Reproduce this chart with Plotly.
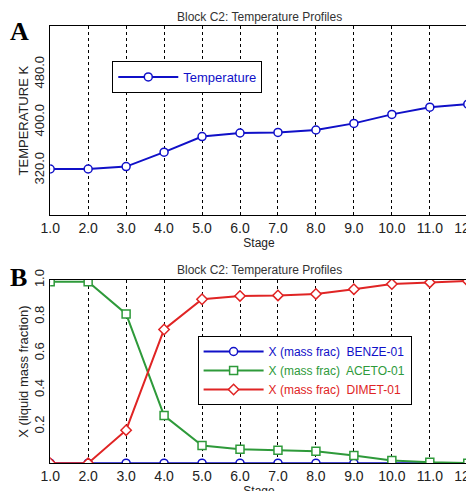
import plotly.graph_objects as go
from plotly.subplots import make_subplots

stages = list(range(1, 13))
stage_labels = ["%.1f" % s for s in stages]
temperature = [322, 322, 326, 350, 376, 382, 383, 387, 398, 413, 425, 430]
benzene = [0] * 12
acetone = [0.99, 0.99, 0.815, 0.26, 0.096, 0.076, 0.071, 0.065, 0.042, 0.015, 0.005, 0.0]
dimet = [0.0, 0.0, 0.18, 0.73, 0.895, 0.913, 0.916, 0.924, 0.95, 0.978, 0.987, 0.995]

BLUE = "#1010c8"
GREEN = "#2e9a3a"
RED = "#e02424"

fig = make_subplots(rows=2, cols=1)

def lbl(text, color):
    return f'<span style="color:{color}">{text}</span>'

fig.add_trace(go.Scatter(x=stages, y=temperature, mode="lines+markers", name=lbl("Temperature", BLUE),
                         line=dict(color=BLUE, width=2), marker=dict(symbol="circle", size=8, color="white", line=dict(color=BLUE, width=1.5)),
                         legend="legend", showlegend=True), row=1, col=1)
series = [(benzene, "X (mass frac)  BENZE-01", BLUE, "circle"),
          (acetone, "X (mass frac)  ACETO-01", GREEN, "square"),
          (dimet, "X (mass frac)  DIMET-01", RED, "diamond")]
for vals, name, col, sym in series:
    fig.add_trace(go.Scatter(x=stages, y=vals, mode="lines+markers", name=lbl(name, col),
                             line=dict(color=col, width=2), marker=dict(symbol=sym, size=8, color="white", line=dict(color=col, width=1.5)),
                             legend="legend2", showlegend=True), row=2, col=1)

xax = dict(range=[1, 12], tickvals=stages, ticktext=stage_labels, showgrid=True, griddash="dot", gridcolor="black", gridwidth=1,
           showline=True, linecolor="black", mirror=True, ticks="", tickfont=dict(size=14, color="#222"), automargin=False,
           title=dict(text="Stage", font=dict(size=12), standoff=2), domain=[0.089, 0.970])
fig.update_xaxes(**xax)
fig.update_yaxes(showgrid=False, showline=True, linecolor="black", mirror=True, tickangle=-90, ticks="", automargin=False,
                 tickfont=dict(size=13, color="#222"), zeroline=False)
fig.update_yaxes(row=1, col=1, range=[245, 560], tickvals=[320, 400, 480, 560], ticktext=["320.0", "400.0", "480.0", "560.0"],
                 title=dict(text="TEMPERATURE K", font=dict(size=13), standoff=0), domain=[0.578, 0.963])
fig.update_yaxes(row=2, col=1, range=[0, 1.0], tickvals=[0.2, 0.4, 0.6, 0.8, 1.0], ticktext=["0.2", "0.4", "0.6", "0.8", "1.0"],
                 title=dict(text="X (liquid mass fraction)", font=dict(size=13), standoff=0), domain=[0.073, 0.446])

fig.update_layout(
    width=474, height=491, margin=dict(l=0, r=0, t=0, b=0), showlegend=True,
    plot_bgcolor="white", paper_bgcolor="white",
    font=dict(family="Liberation Sans, Arial", color="#222"),
    legend=dict(x=0.22, y=0.892, xanchor="left", yanchor="top", bordercolor="black", borderwidth=1, bgcolor="white",
                font=dict(size=13), itemwidth=60, visible=True),
    legend2=dict(x=0.40, y=0.332, xanchor="left", yanchor="top", bordercolor="black", borderwidth=1, bgcolor="white",
                 font=dict(size=12), itemwidth=60, tracegroupgap=0),
    annotations=[
        dict(text="Block C2: Temperature Profiles", x=0.53, y=1.0, xref="paper", yref="paper", xanchor="center", yanchor="top", showarrow=False, font=dict(size=12, color="#333")),
        dict(text="Block C2: Temperature Profiles", x=0.53, y=0.485, xref="paper", yref="paper", xanchor="center", yanchor="top", showarrow=False, font=dict(size=12, color="#333")),
        dict(text="<b>A</b>", x=0.0, y=0.985, xref="paper", yref="paper", xanchor="left", yanchor="top", showarrow=False, font=dict(size=26, family="Liberation Serif", color="black")),
        dict(text="<b>B</b>", x=0.0, y=0.485, xref="paper", yref="paper", xanchor="left", yanchor="top", showarrow=False, font=dict(size=26, family="Liberation Serif", color="black")),
    ],
)
fig.write_html("out.html")
